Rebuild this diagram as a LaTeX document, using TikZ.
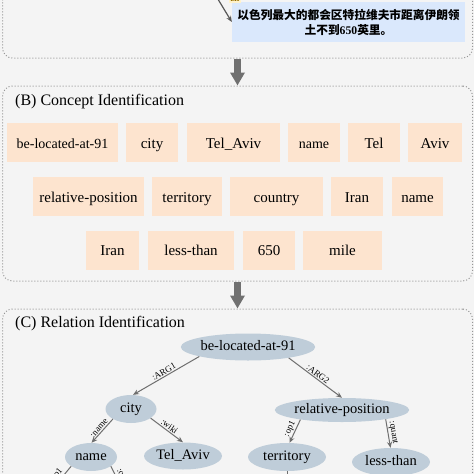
\documentclass[tikz,border=0pt]{standalone}
\usepackage{fontspec}
\setmainfont{Liberation Serif}
\newfontfamily\cjk{Noto Sans CJK SC}
\usepackage{tikz}
\usetikzlibrary{shapes.geometric,arrows.meta}

\definecolor{bgcol}{RGB}{244,244,244}
\definecolor{framecol}{RGB}{150,150,150}
\definecolor{conceptcol}{RGB}{253,228,207}
\definecolor{sentcol}{RGB}{218,232,252}
\definecolor{nodecol}{RGB}{191,205,217}
\definecolor{edgecol}{RGB}{110,110,110}
\definecolor{arrowcol}{RGB}{112,112,112}
\definecolor{tagcol}{RGB}{255,242,204}
\definecolor{tagtext}{RGB}{150,110,0}

\begin{document}
\begin{tikzpicture}[x=1pt, y=-1pt,
  panel/.style={draw=framecol, dotted, line width=1pt, rounded corners=10pt,
    minimum width=470pt, inner sep=0pt},
  concept/.style={fill=conceptcol, minimum height=39pt, inner sep=0pt,
    text height=12.5pt, text depth=1.5pt, font=\fontsize{15}{18}\selectfont},
  amrnode/.style={ellipse, fill=nodecol, inner sep=0pt,
    text height=10pt, text depth=4pt, font=\fontsize{14.5}{17}\selectfont},
  rel/.style={draw=edgecol, line width=1pt, -{Stealth[length=6pt,width=5pt]}},
  rellabel/.style={above, sloped, inner sep=1pt, font=\fontsize{9}{10}\selectfont},
  bigarrow/.style={draw=arrowcol, line width=7pt, -{Triangle[width=14pt,length=13pt]}},
  title/.style={anchor=west, inner sep=0pt, font=\fontsize{16}{19}\selectfont}
]
\useasboundingbox (0,0) rectangle (474,474);
\clip (0,0) rectangle (474,474);
\fill [bgcol] (0,0) rectangle (474,474);

% panels
\node [panel, minimum height=98pt] (panelA) at (237.5,9) {};
\node [panel, minimum height=195pt] (panelB) at (237.5,183.5) {};
\node [panel, minimum height=231pt] (panelC) at (237.5,424.5) {};
\draw [bigarrow] (panelA.south) -- (panelB.north);
\draw [bigarrow] (panelB.south) -- (panelC.north);

% (A) sentence
\node [fill=sentcol, minimum width=233pt, minimum height=40pt, inner sep=0pt,
  align=center, font=\cjk\bfseries\fontsize{11.7}{15}\selectfont] (sent) at (348.5,22)
  {以色列最大的都会区特拉维夫市距离伊朗领\\土不到{\rmfamily\bfseries 650}英里。};
\node [fill=tagcol, text=tagtext, inner sep=1.5pt, font=\bfseries\fontsize{9}{10}\selectfont]
  (tag) at (235,-2) {zh};
\coordinate (src) at (210,-14);
\draw [draw=edgecol!80!black, line width=1.2pt, -{Stealth[length=6pt,width=5pt]}] (src) -- (sent.west);

% (B) concepts
\node [title] (titleB) at (15,101.5) {(B) Concept Identification};
\node [concept, minimum width=111pt, font=\fontsize{14}{17}\selectfont] (c1) at (62.5,142.5) {be-located-at-91};
\node [concept, minimum width=52pt] (c2) at (152,142.5) {city};
\node [concept, minimum width=93pt] (c3) at (233.5,142.5) {Tel\_Aviv};
\node [concept, minimum width=52pt, font=\fontsize{14}{17}\selectfont] (c4) at (314,142.5) {name};
\node [concept, minimum width=52pt] (c5) at (374,142.5) {Tel};
\node [concept, minimum width=54pt] (c6) at (435,142.5) {Aviv};
\node [concept, minimum width=111pt] (c7) at (88.5,196.5) {relative-position};
\node [concept, minimum width=70pt] (c8) at (187,196.5) {territory};
\node [concept, minimum width=93pt] (c9) at (276.5,196.5) {country};
\node [concept, minimum width=52pt] (c10) at (357,196.5) {Iran};
\node [concept, minimum width=51pt] (c11) at (417.5,196.5) {name};
\node [concept, minimum width=53pt] (c12) at (112.5,250) {Iran};
\node [concept, minimum width=86pt] (c13) at (191,250) {less-than};
\node [concept, minimum width=52pt] (c14) at (269,250) {650};
\node [concept, minimum width=79pt] (c15) at (342.5,250) {mile};

% (C) relations
\node [title] (titleC) at (15,323.5) {(C) Relation Identification};
\node [amrnode, minimum width=127pt, minimum height=27pt] (blat) at (248,347) {be-located-at-91};
\node [amrnode, minimum width=51pt, minimum height=28pt] (city) at (131,409) {city};
\node [amrnode, minimum width=104pt, minimum height=24pt] (relpos) at (342,410) {relative-position};
\node [amrnode, minimum width=52pt, minimum height=28pt] (name) at (91,457) {name};
\node [amrnode, minimum width=78pt, minimum height=27pt] (telaviv) at (183,456) {Tel\_Aviv};
\node [amrnode, minimum width=78pt, minimum height=28pt] (territory) at (287,457) {territory};
\node [amrnode, minimum width=78pt, minimum height=28pt] (lessthan) at (391,462) {less-than};
\coordinate (op1end) at (35,510);
\coordinate (op2end) at (133,510);
\coordinate (terrend) at (287,510);

\draw [rel] (blat.191) -- node [rellabel] {:ARG1} (city.82);
\draw [rel] (blat.-15) -- node [rellabel] {:ARG2} (relpos.90);
\draw [rel] (city.209) -- node [rellabel] {:name} (name.88);
\draw [rel] (city.-25) -- node [rellabel] {:wiki} (telaviv.90);
\draw [rel] (relpos.193) -- node [rellabel] {:op1} (territory.80);
\draw [rel] (relpos.-12) -- node [rellabel] {:quant} (lessthan.92);
\draw [rel] (name.205) -- node [rellabel, pos=0.3] {:op1} (op1end);
\draw [rel] (name.-25) -- node [rellabel, pos=0.3] {:op2} (op2end);
\draw [rel] (territory.south) -- (terrend);
\end{tikzpicture}
\end{document}
